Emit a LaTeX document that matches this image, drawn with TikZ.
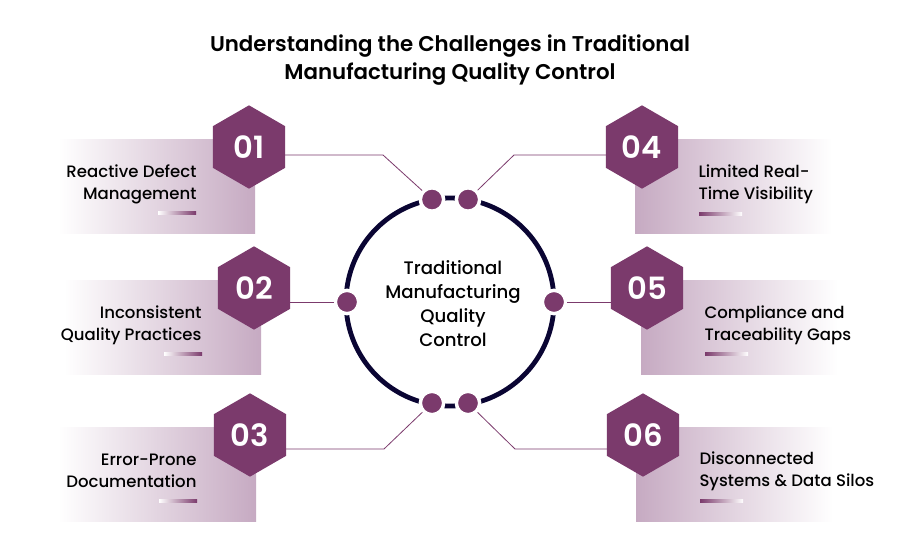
\documentclass[tikz,border=0pt]{standalone}
\usepackage{fontspec}
\setmainfont{Poppins Medium}
\newfontfamily\headfont{Poppins SemiBold}
\usetikzlibrary{shapes.geometric}
\definecolor{plum}{RGB}{123,58,108}
\definecolor{plumlight}{RGB}{198,170,194}
\definecolor{ringink}{RGB}{10,5,51}
\tikzset{every picture/.style={line width=0.75pt}}
\tikzset{
  hexnode/.style={regular polygon,regular polygon sides=6,shape border rotate=30,minimum size=62.5pt,inner sep=0pt,outer sep=0pt,fill=plum,text=white,font=\headfont\fontsize{23}{23}\selectfont},
  dotnode/.style={circle,minimum size=17.5pt,inner sep=0pt,fill=plum,draw=white,line width=2.6pt},
  linkline/.style={draw=plum,line width=0.6pt},
  leftband/.style={left color=white,right color=plumlight,draw=none},
  rightband/.style={left color=plumlight,right color=white,draw=none},
  leftbar/.style={left color=white,right color=plum,draw=none},
  rightbar/.style={left color=plum,right color=white,draw=none},
  lefttext/.style={align=right,anchor=east,inner sep=0pt,font=\fontsize{12.4}{16.5}\selectfont},
  righttext/.style={align=left,anchor=west,inner sep=0pt,font=\fontsize{12.4}{16.5}\selectfont},
}
\begin{document}
\begin{tikzpicture}[x=0.75pt,y=0.75pt,yscale=-1,xscale=1]
\useasboundingbox (0,0) rectangle (900,560);
\fill[white] (0,0) rectangle (900,560);

% Title
\node (title) [align=center,font=\headfont\fontsize{16}{21}\selectfont] at (450,60) {Understanding the Challenges in Traditional\\Manufacturing Quality Control};

% Bands
\fill[leftband] (58,139) rectangle (255,233);
\fill[leftband] (64,280) rectangle (261,374);
\fill[leftband] (58,427) rectangle (256,521);
\fill[rightband] (635,139) rectangle (832,233);
\fill[rightband] (641,280) rectangle (838,374);
\fill[rightband] (636,427) rectangle (833,521);

% Bars
\fill[leftbar] (158,211) rectangle (196,214);
\fill[leftbar] (164,352) rectangle (202,355);
\fill[leftbar] (159,499) rectangle (197,502);
\fill[rightbar] (699,212) rectangle (742,215);
\fill[rightbar] (705,352) rectangle (748,355);
\fill[rightbar] (700,499) rectangle (743,502);

% Ring
\draw[ringink,line width=3.6pt] (450,302) circle (104);
\node (core) [align=center,font=\fontsize{13.6}{18}\selectfont] at (453,304) {Traditional\\Manufacturing\\Quality\\Control};

% Hexagons
\node (hexa) [hexnode] at (249,147) {01};
\node (hexb) [hexnode] at (254,288) {02};
\node (hexc) [hexnode] at (250,435) {03};
\node (hexd) [hexnode] at (642,147) {04};
\node (hexe) [hexnode] at (647,288) {05};
\node (hexf) [hexnode] at (643,435) {06};

% Dots
\node (dota) [dotnode] at (432,199.5) {};
\node (dotd) [dotnode] at (468,199.5) {};
\node (dotb) [dotnode] at (347,302) {};
\node (dote) [dotnode] at (554,302) {};
\node (dotc) [dotnode] at (432,403) {};
\node (dotf) [dotnode] at (468,403) {};

% Bends
\coordinate (benda) at (383,155);
\coordinate (bendd) at (514,155);
\coordinate (bendc) at (384,449);
\coordinate (bendf) at (515,449);

% Connectors
\draw[linkline] (hexa.east |- benda) -- (benda) -- (dota);
\draw[linkline] (hexd.west |- bendd) -- (bendd) -- (dotd);
\draw[linkline] (hexc.east |- bendc) -- (bendc) -- (dotc);
\draw[linkline] (hexf.west |- bendf) -- (bendf) -- (dotf);
\draw[linkline] (hexb.east |- dotb) -- (dotb);
\draw[linkline] (hexe.west |- dote) -- (dote);

% Labels
\node (texta) [lefttext] at (197,184) {Reactive Defect\\Management};
\node (textb) [lefttext] at (202,325) {Inconsistent\\Quality Practices};
\node (textc) [lefttext] at (197,471) {Error-Prone\\Documentation};
\node (textd) [righttext] at (698,184) {Limited Real-\\Time Visibility};
\node (texte) [righttext] at (704,325) {Compliance and\\Traceability Gaps};
\node (textf) [righttext] at (699,471) {Disconnected\\Systems \& Data Silos};

\end{tikzpicture}
\end{document}
